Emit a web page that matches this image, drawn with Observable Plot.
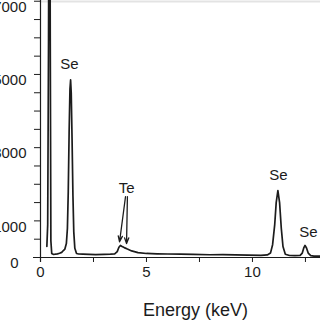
<!DOCTYPE html>
<html>
<head>
<meta charset="utf-8">
<script src="https://cdn.jsdelivr.net/npm/d3@7"></script>
<script src="https://cdn.jsdelivr.net/npm/@observablehq/plot@0.6"></script>
<style>
  html, body { margin: 0; padding: 0; background: #fff; }
  #chart { width: 320px; height: 320px; overflow: hidden; }
  svg { font-family: "Liberation Sans", Arial, sans-serif; }
</style>
</head>
<body>
<div id="chart"></div>
<script>
// EDS spectrum: energy (keV) and counts
const energy = [0.30, 0.34, 0.38, 0.42, 0.46, 0.49, 0.53, 0.60, 0.70, 0.80, 0.90, 1.00, 1.08, 1.15, 1.22, 1.27, 1.31, 1.35, 1.39, 1.42, 1.45, 1.49, 1.53, 1.57, 1.62, 1.70, 1.80, 2.00, 2.30, 2.60, 3.00, 3.30, 3.50, 3.62, 3.70, 3.77, 3.85, 3.95, 4.10, 4.30, 4.60, 5.00, 5.50, 6.00, 6.60, 7.20, 8.00, 8.60, 9.20, 9.80, 10.40, 10.70, 10.85, 10.95, 11.05, 11.12, 11.20, 11.28, 11.36, 11.44, 11.55, 11.75, 12.00, 12.25, 12.35, 12.42, 12.48, 12.55, 12.63, 12.75, 12.90, 13.21];
const counts = [300, 900, 6000, 16000, 6000, 450, 110, 85, 90, 100, 115, 140, 190, 230, 380, 800, 1800, 3400, 4600, 4850, 4500, 3200, 1700, 700, 250, 110, 95, 90, 85, 80, 85, 90, 100, 160, 280, 330, 300, 270, 230, 180, 135, 110, 100, 95, 90, 85, 75, 80, 70, 65, 60, 70, 120, 350, 900, 1500, 1830, 1500, 800, 300, 90, 55, 50, 60, 120, 260, 330, 260, 120, 50, 40, 35];
const spectrum = energy.map((e, i) => ({energy: e, counts: counts[i]}));

// Peak labels
const peakNames = ["Se", "Te", "Se", "Se"];
const peakEnergy = [1.37, 4.06, 11.23, 12.64];
const peakCounts = [5270, 1885, 2240, 690];
const peakLabels = peakNames.map((t, i) => ({text: t, energy: peakEnergy[i], counts: peakCounts[i]}));

// Arrows from the Te label down to its lines
const arrowFromE = [4.01, 4.10];
const arrowFromC = [1660, 1660];
const arrowToE = [3.73, 4.06];
const arrowToC = [430, 380];
const arrows = arrowFromE.map((e, i) => ({x1: e, y1: arrowFromC[i], x2: arrowToE[i], y2: arrowToC[i]}));

// Axis ticks
const xMajor = [0, 5, 10];
const xMinor = [2.5, 7.5, 12.5];
const yMinor = d3.range(0, 7001, 500);
const yLabelValues = [1000, 3000, 5000, 7000];
const yLabelTexts = ["1000", "3000", "5000", "7000"];
const yZeroLabel = "0";

const ink = "#1c1c1c";

const chart = Plot.plot({
  width: 320,
  height: 320,
  marginLeft: 40,
  marginRight: 0,
  marginTop: 0,
  marginBottom: 63,
  style: {fontFamily: "'Liberation Sans', Arial, sans-serif", fontSize: "15px", color: ink, background: "#fff"},
  x: {domain: [0, 13.21]},
  y: {domain: [0, 7020]},
  marks: [
    // faint border line along the top edge
    Plot.ruleY([7020], {stroke: "#e3e3e3", strokeWidth: 2, dy: 1, insetRight: -2}),
    Plot.line(spectrum, {x: "energy", y: "counts", stroke: ink, strokeWidth: 1.7, clip: true}),
    // axis lines
    Plot.ruleX([0], {stroke: ink, strokeWidth: 1.2, insetBottom: -5}),
    Plot.ruleY([0], {stroke: ink, strokeWidth: 1.2, insetLeft: -7}),
    // y ticks
    Plot.axisY({ticks: yMinor, tickSize: 6, tickFormat: () => "", stroke: ink, strokeWidth: 1}),
    Plot.text(yLabelValues, {y: d => d, text: (d, i) => yLabelTexts[i], frameAnchor: "left", textAnchor: "end", dx: -14, dy: 6, fontSize: 15, fill: ink}),
    Plot.text([0], {y: d => d, text: () => yZeroLabel, frameAnchor: "left", textAnchor: "end", dx: -22, dy: 6, fontSize: 15, fill: ink}),
    // x ticks
    Plot.axisX({ticks: xMajor, tickSize: 5, tickPadding: 4, fontSize: 15, stroke: ink, strokeWidth: 1, label: null}),
    Plot.axisX({ticks: xMinor, tickSize: 5, tickFormat: () => "", stroke: ink, strokeWidth: 1, label: null}),
    // x axis title
    Plot.text(["Energy (keV)"], {frameAnchor: "bottom", dx: 15, dy: 58, fontSize: 18, fill: ink}),
    // peak labels
    Plot.text(peakLabels, {x: "energy", y: "counts", text: "text", fontSize: 15, fill: ink}),
    Plot.arrow(arrows, {x1: "x1", y1: "y1", x2: "x2", y2: "y2", stroke: ink, strokeWidth: 1.3, headLength: 7, headAngle: 40})
  ]
});

document.getElementById("chart").appendChild(chart);
</script>
</body>
</html>
